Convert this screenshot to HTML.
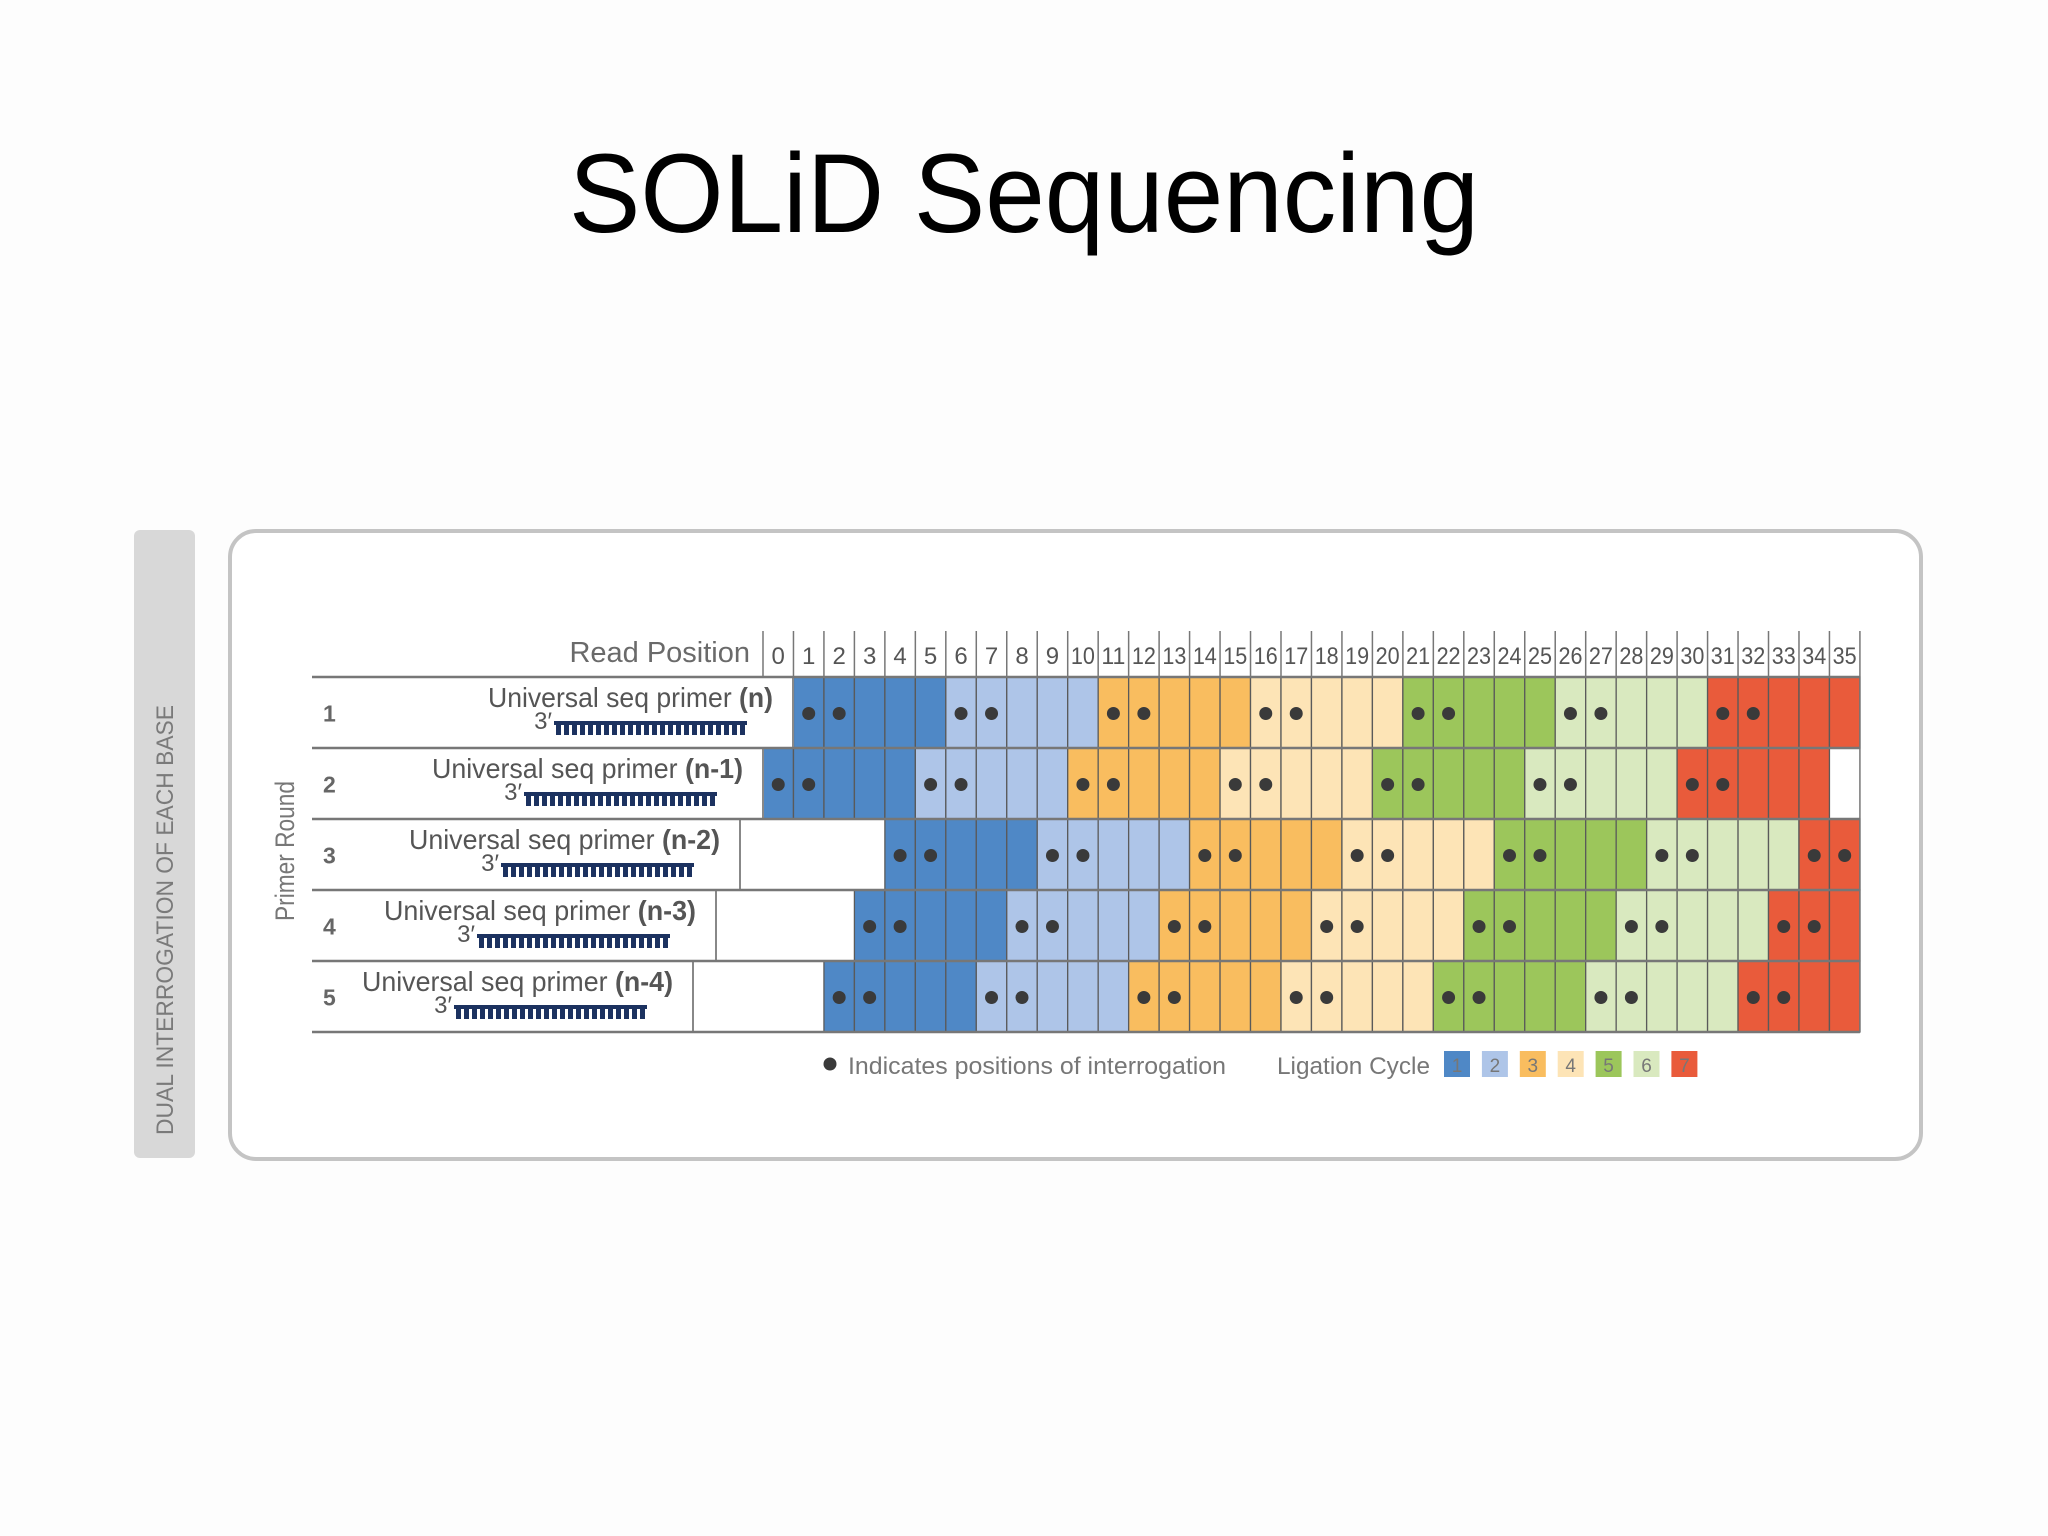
<!DOCTYPE html>
<html><head><meta charset="utf-8"><style>
html,body{margin:0;padding:0;background:#fff}
svg{display:block}
</style></head><body>
<svg id="s" width="2048" height="1536" viewBox="0 0 2048 1536" xmlns="http://www.w3.org/2000/svg">
<rect x="0" y="0" width="2048" height="1536" fill="#fdfdfd"/>
<text x="1024" y="232" text-anchor="middle" font-family="'Liberation Sans',sans-serif" font-size="112" textLength="910" lengthAdjust="spacingAndGlyphs" fill="#000">SOLiD Sequencing</text>
<rect x="134" y="530" width="61" height="628" rx="6" fill="#d8d8d8"/>
<text transform="translate(173,920) rotate(-90)" text-anchor="middle" font-family="'Liberation Sans',sans-serif" font-size="24" fill="#7a7a7a" textLength="430" lengthAdjust="spacingAndGlyphs">DUAL INTERROGATION OF EACH BASE</text>
<rect x="230" y="531" width="1691" height="628" rx="26" fill="#fff" stroke="#c4c4c4" stroke-width="4"/>
<text transform="translate(294,851) rotate(-90)" text-anchor="middle" font-family="'Liberation Sans Narrow','Liberation Sans',sans-serif" font-size="27" fill="#777" textLength="140" lengthAdjust="spacingAndGlyphs">Primer Round</text>
<text x="750" y="662" text-anchor="end" font-family="'Liberation Sans',sans-serif" font-size="29" fill="#6a6a6a">Read Position</text>
<g id="grid"></g>
<g id="legend">
<circle cx="830" cy="1064" r="6.5" fill="#3a3a3a"/>
<text x="848" y="1074" font-family="'Liberation Sans',sans-serif" font-size="24" fill="#777" textLength="378" lengthAdjust="spacingAndGlyphs">Indicates positions of interrogation</text>
<text x="1277" y="1074" font-family="'Liberation Sans',sans-serif" font-size="24" fill="#777" textLength="153" lengthAdjust="spacingAndGlyphs">Ligation Cycle</text>
</g>
</svg>
<script>
var NS='http://www.w3.org/2000/svg';
var positions=['0','1','2','3','4','5','6','7','8','9','10','11','12','13','14','15','16','17','18','19','20','21','22','23','24','25','26','27','28','29','30','31','32','33','34','35'];
var rounds=['1','2','3','4','5'];
var primerLabels=['(n)','(n-1)','(n-2)','(n-3)','(n-4)'];
var rowStart=[1,0,4,3,2];
var rowEnd=[35,34,35,35,35];
var cycleLen=5;
var dotsPerCycle=2;
var cycles=['1','2','3','4','5','6','7'];
var cycleColors=['#4f88c6','#aec5e8','#f9bd5f','#fde4b6','#9cc65b','#d9e9bf','#e95b3b'];
var labelEdge=[793,763,740,716,693];
var labelLen=[285,311,311,312,311];

var X0=763,CW=30.47,Y0=677,RH=71;
function xs(c){return X0+c*CW;}
function ys(r){return Y0+r*RH;}
var g=document.getElementById('grid');
function mk(tag,at,parent){var e=document.createElementNS(NS,tag);for(var k in at)e.setAttribute(k,at[k]);(parent||g).appendChild(e);return e;}

rounds.forEach(function(rd,r){
  for(var c=rowStart[r];c<=rowEnd[r];c++){
    var k=c-rowStart[r];var cy=Math.floor(k/cycleLen);
    var cell=mk('rect',{x:xs(c),y:ys(r),width:CW,height:RH,fill:cycleColors[cy],stroke:'#5a5a5a','stroke-width':1.3});
    
    
    if(k%cycleLen<dotsPerCycle){
      var d=mk('circle',{cx:xs(c)+CW/2,cy:ys(r)+RH/2+1,r:6.5,fill:'#3a3a3a'});
      
      
    }
  }
  var n=mk('text',{x:323,y:ys(r)+RH/2+9,'font-family':"'Liberation Sans',sans-serif",'font-size':23,'font-weight':'bold',fill:'#666'});
  n.textContent=rd;
  
  
  var edge=labelEdge[r];
  var sep=mk('line',{x1:edge,y1:ys(r),x2:edge,y2:ys(r+1),stroke:'#888','stroke-width':2});
  
  
  var te=edge-20;
  var t=mk('text',{x:te,y:ys(r)+30,'text-anchor':'end','font-family':"'Liberation Sans Narrow','Liberation Sans',sans-serif",'font-size':28,fill:'#555',textLength:labelLen[r],lengthAdjust:'spacingAndGlyphs'});
  t.textContent='Universal seq primer ';
  var b=document.createElementNS(NS,'tspan');b.setAttribute('font-weight','bold');b.textContent=primerLabels[r];t.appendChild(b);
  
  
  var cr=te-26,cl=cr-193;
  var p=mk('text',{x:cl-2,y:ys(r)+52,'text-anchor':'end','font-family':"'Liberation Sans Narrow','Liberation Sans',sans-serif",'font-size':24,fill:'#555'});
  p.textContent="3\u2032";
  
  
  var comb=mk('rect',{x:cl,y:ys(r)+44,width:193,height:4,fill:'#1c3260'});
  
  
  for(var i=0;i<24;i++){var tt=mk('rect',{x:cl+2+i*8,y:ys(r)+48,width:5,height:10,fill:'#1c3260'});}
});
for(var r=0;r<=rounds.length;r++){
  var l=mk('line',{x1:312,y1:ys(r),x2:xs(positions.length),y2:ys(r),stroke:'#777','stroke-width':2.5});
  
  
}
positions.forEach(function(p,c){
  var l=mk('line',{x1:xs(c),y1:631,x2:xs(c),y2:ys(0),stroke:'#777','stroke-width':1.5});
  
  
  var t=mk('text',{x:xs(c)+CW/2,y:664,'text-anchor':'middle','font-family':"'Liberation Sans Narrow','Liberation Sans',sans-serif",'font-size':24,fill:'#555'});
  if(p.length>1){t.setAttribute('textLength',24);t.setAttribute('lengthAdjust','spacingAndGlyphs');}
  t.textContent=p;
  
  
});
var lz=mk('line',{x1:xs(positions.length),y1:631,x2:xs(positions.length),y2:ys(5),stroke:'#777','stroke-width':1.5});


var lg=document.getElementById('legend');
cycles.forEach(function(cy,i){
  var x=1444+i*37.9;
  var s=mk('rect',{x:x,y:1051,width:26,height:26,fill:cycleColors[i]},lg);
  
  
  var t=mk('text',{x:x+13,y:1072,'text-anchor':'middle','font-family':"'Liberation Sans Narrow','Liberation Sans',sans-serif",'font-size':19,fill:'#777'},lg);
  t.textContent=cy;
  
  
});
</script>
</body></html>
